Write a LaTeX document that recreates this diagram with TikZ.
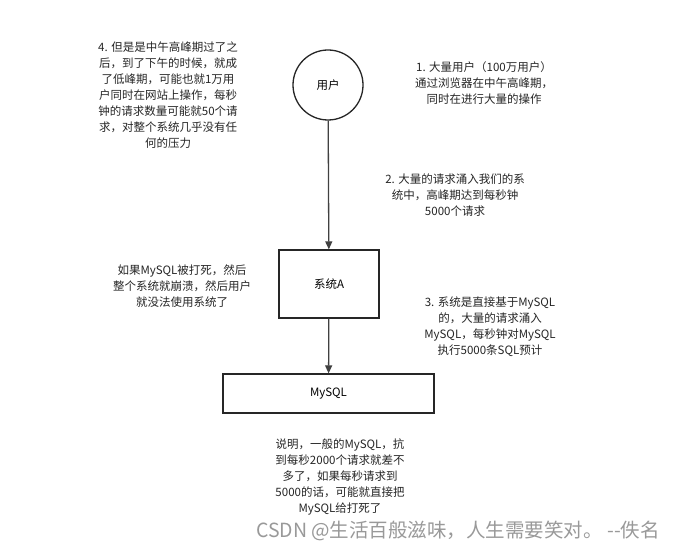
\documentclass[tikz,border=0pt]{standalone}
\usepackage{fontspec}
\setmainfont{Noto Sans CJK SC}
\usetikzlibrary{arrows.meta}
\begin{document}
\begin{tikzpicture}[x=1pt,y=-1pt,
  txt/.style={align=center,font=\fontsize{11.5}{16}\selectfont,text=black!85,inner sep=0},
  box/.style={draw=black!85,line width=1.3pt,fill=white,font=\fontsize{11.5}{14}\selectfont},
  conn/.style={draw=black!75,line width=1.3pt,-{Triangle[length=8pt,width=7pt]}}]
\useasboundingbox[fill=white] (0,0) rectangle (676,553);
\node[box,circle,minimum size=70pt,inner sep=0] (user) at (328,85) {用户};
\node[box,minimum width=100pt,minimum height=68pt] (sysa) at (329,284) {系统A};
\node[box,minimum width=211pt,minimum height=39pt] (mysql) at (328.5,393.5) {MySQL};
\draw[conn] (user) -- (sysa);
\draw[conn] (sysa) -- (mysql);
\node[txt] (t4) at (168,95) {4. 但是是中午高峰期过了之\\后，到了下午的时候，就成\\了低峰期，可能也就1万用\\户同时在网站上操作，每秒\\钟的请求数量可能就50个请\\求，对整个系统几乎没有任\\何的压力};
\node[txt] (t1) at (484,83) {1. 大量用户（100万用户）\\通过浏览器在中午高峰期，\\同时在进行大量的操作};
\node[txt] (t2) at (455,195) {2. 大量的请求涌入我们的系\\统中，高峰期达到每秒钟\\5000个请求};
\node[txt] (tl) at (182,286) {如果MySQL被打死，然后\\整个系统就崩溃，然后用户\\就没法使用系统了};
\node[txt] (t3) at (490,327) {3. 系统是直接基于MySQL\\的，大量的请求涌入\\MySQL，每秒钟对MySQL\\执行5000条SQL预计};
\node[txt] (tb) at (340,477) {说明，一般的MySQL，抗\\到每秒2000个请求就差不\\多了，如果每秒请求到\\5000的话，可能就直接把\\MySQL给打死了};
\node[txt,font=\fontsize{19.5}{20}\selectfont,text=black!40] (wm) at (458,531) {CSDN @生活百般滋味，人生需要笑对。 {-}{-}佚名};
\end{tikzpicture}
\end{document}
